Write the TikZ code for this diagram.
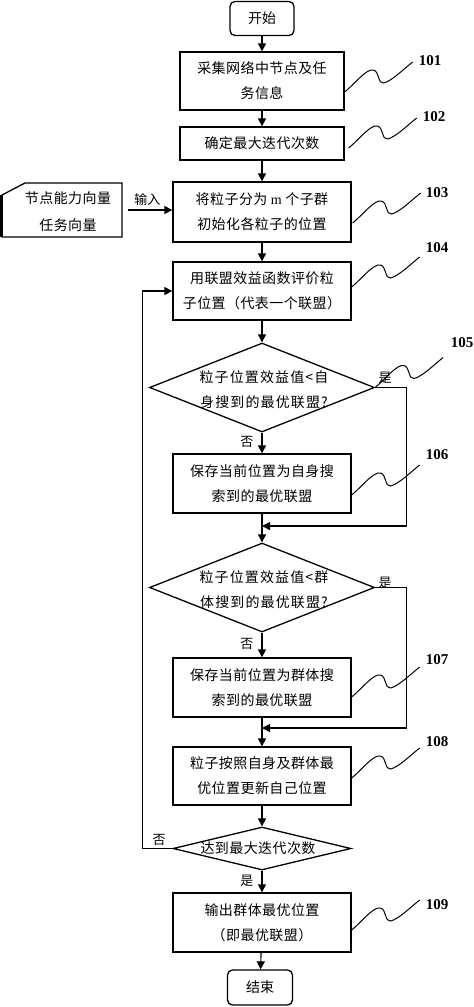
\documentclass[tikz,border=0pt]{standalone}
\usepackage{fontspec}
\setmainfont{Liberation Serif}
\newfontfamily\cjk{Noto Sans CJK SC}
\usetikzlibrary{arrows.meta,shapes.geometric,calc}
\begin{document}
\begin{tikzpicture}[x=1pt,y=-1pt,
  box/.style={draw, line width=1.3pt, minimum width=178pt, minimum height=58pt, align=center, inner sep=0pt, font=\cjk\fontsize{14}{25}\selectfont\addfontfeature{LetterSpace=3}},
  startend/.style={draw, line width=1.3pt, rounded corners=5pt, minimum width=64pt, minimum height=34pt, inner sep=0pt, font=\cjk\fontsize{14}{25}\selectfont},
  dia/.style={draw, diamond, line width=1.3pt, inner sep=0pt},
  dtext/.style={align=center, inner sep=0pt, font=\cjk\fontsize{14}{25}\selectfont\addfontfeature{LetterSpace=8}},
  yn/.style={inner sep=0pt, font=\cjk\fontsize{13}{15}\selectfont},
  num/.style={inner sep=0pt, font=\fontsize{15}{17}\selectfont\bfseries},
  arr/.style={line width=1.1pt, -{Triangle[length=8pt,width=8pt]}},
  ln/.style={line width=1.1pt},
  squig/.pic={\draw[line width=1pt] (0,0) .. controls (10,-8) and (22,-24) .. (29,-22) .. controls (35,-20) and (33,-8) .. (39,-9) .. controls (47,-11) and (58,-22) .. (68,-30);}
]
\useasboundingbox (0,0) rectangle (474,1007);

% nodes
\node[startend] (st) at (262,18.5) {开始};
\node[box, minimum width=164pt, minimum height=58pt] (b101) at (262,81) {采集网络中节点及任\\务信息};
\node[box, minimum width=164pt, minimum height=33pt] (b102) at (262,143.5) {确定最大迭代次数};
\node[box, minimum height=60pt] (b103) at (262,212) {将粒子分为 {\rmfamily m} 个子群\\初始化各粒子的位置};
\node[box] (b104) at (262,291) {用联盟效益函数评价粒\\子位置（代表一个联盟）};
\node[dia, minimum width=225pt, minimum height=89pt] (d105) at (262,387.5) {};
\node[dtext] (t105) at (264,389.5) {粒子位置效益值<自\\身搜到的最优联盟?};
\node[box, minimum height=59pt] (b106) at (262,483.5) {保存当前位置为自身搜\\索到的最优联盟};
\node[dia, minimum width=225pt, minimum height=89pt] (d2) at (262,587.5) {};
\node[dtext] (t2) at (264,589.5) {粒子位置效益值<群\\体搜到的最优联盟?};
\node[box, minimum height=59pt] (b107) at (262,687.5) {保存当前位置为群体搜\\索到的最优联盟};
\node[box] (b108) at (262,776) {粒子按照自身及群体最\\优位置更新自己位置};
\node[dia, minimum width=178pt, minimum height=43pt] (d3) at (262,848.5) {};
\node[dtext, font=\cjk\fontsize{14}{25}\selectfont\addfontfeature{LetterSpace=3}] (t3) at (258,848) {达到最大迭代次数};
\node[box, minimum height=59pt] (b109) at (262,922.5) {输出群体最优位置\\（即最优联盟）};
\node[startend, minimum width=65pt, minimum height=35pt] (en) at (260,987.5) {结束};

% input card
\node[inner sep=0pt, minimum width=120pt, minimum height=54pt, align=center] (inp) at (62,210) {};
\draw[line width=1.3pt] (2,195) -- (25,183) -- (122,183) -- (122,237) -- (2,237) -- cycle;
\draw[line width=3pt] (1.5,195) -- (1.5,237);
\node[align=center, inner sep=0pt, font=\cjk\fontsize{14}{27}\selectfont\addfontfeature{LetterSpace=3}] (tinp) at (68,211.5) {节点能力向量\\任务向量};

% connectors
\draw[arr] (st) -- (b101);
\draw[arr] (b101) -- (b102);
\draw[arr] (b102) -- (b103);
\draw[arr, shorten <=6pt] (inp.east) -- (b103.west |- inp.east) node[midway, above=4pt, yn] (lin) {输入};
\draw[arr] (b103) -- (b104);
\draw[arr] (b104) -- (d105.north);
\draw[arr] (d105.south) -- (b106) node[pos=0.45, left=8pt, yn] (n1) {否};
\coordinate (m1) at (262,526);
\coordinate (m2) at (262,728);
\draw[arr] (b106) -- (d2.north);
\draw[arr] (d105.east) -- ++(31,0) |- (m1);
\node[yn] (y1) at (385,378) {是};
\draw[arr] (d2.south) -- (b107) node[pos=0.45, left=8pt, yn] (n2) {否};
\draw[arr] (b107) -- (b108);
\draw[arr] (d2.east) -- ++(31,0) |- (m2);
\node[yn] (y2) at (385,583) {是};
\draw[arr] (b108) -- (d3.north);
\draw[arr] (d3.south) -- (b109) node[pos=0.45, left=8pt, yn] (y3) {是};
\draw[arr] (d3.west) -- ++(-30,0) |- (b104.west);
\node[yn] (n3) at (159,840) {否};
\draw[arr] (b109) -- (en);

% leaders and numbers
\pic at ($(b101.east)+(0,11)$) {squig};
\node[num] (l101) at (430,61) {101};
\pic at ($(b102.east)+(4,4.5)$) {squig};
\node[num] (l102) at (434,117) {102};
\pic at ($(b103.east)+(1,11)$) {squig};
\node[num] (l103) at (437,193) {103};
\pic at ($(b104.east)+(0,-4)$) {squig};
\node[num] (l104) at (437,248) {104};
\pic at (d105.east) {squig};
\node[num] (l105) at (462,343) {105};
\pic at ($(b106.east)+(0,11.5)$) {squig};
\node[num] (l106) at (437,455) {106};
\pic at ($(b107.east)+(0,9.5)$) {squig};
\node[num] (l107) at (437,660) {107};
\pic at ($(b108.east)+(0,2)$) {squig};
\node[num] (l108) at (437,742) {108};
\pic at ($(b109.east)+(0,7.5)$) {squig};
\node[num] (l109) at (437,905) {109};
\end{tikzpicture}
\end{document}
